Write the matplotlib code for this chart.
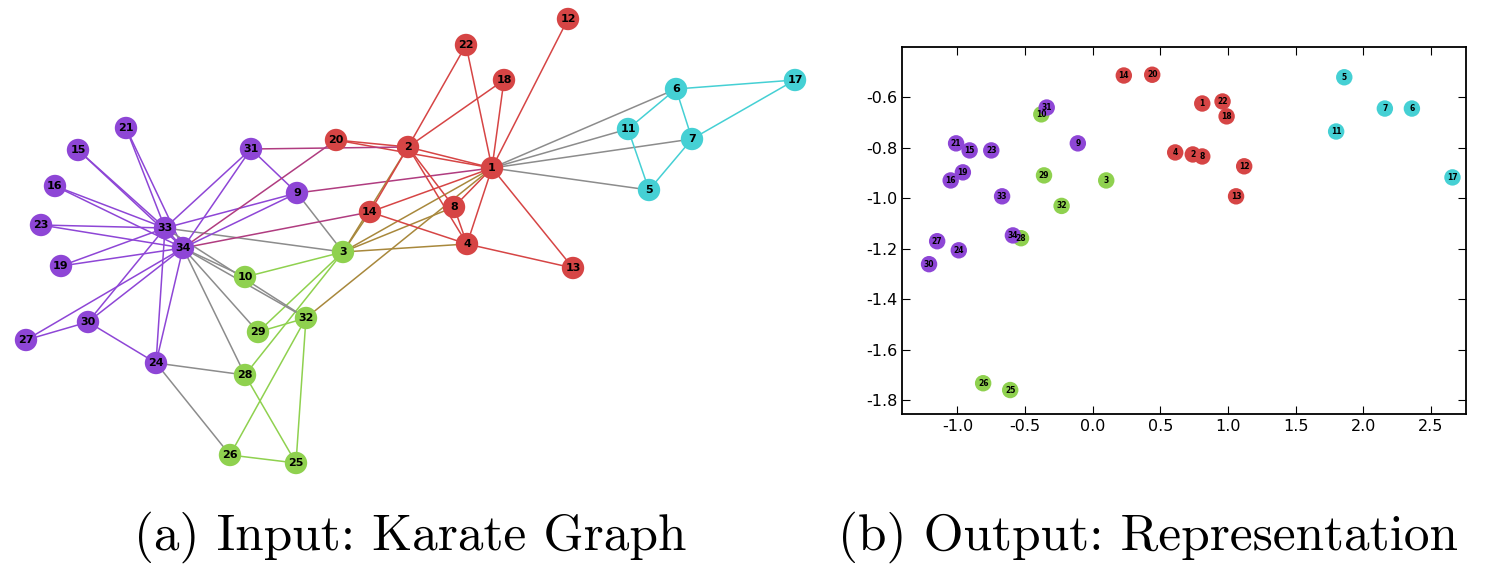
import numpy as np
import matplotlib
matplotlib.use("Agg")
import matplotlib.pyplot as plt

# node ids and community (r=red, c=cyan, g=green, p=purple)
nodes = list(range(1, 35))
community = {
    'r': [1, 2, 4, 8, 12, 13, 14, 18, 20, 22],
    'c': [5, 6, 7, 11, 17],
    'g': [3, 10, 25, 26, 28, 29, 32],
    'p': [9, 15, 16, 19, 21, 23, 24, 27, 30, 31, 33, 34],
}
# graph layout (left panel)
layout_x = [492, 408, 343, 467, 649, 676, 692, 454, 297, 245, 628, 568, 573, 370, 78, 55, 795,
            504, 61, 336, 126, 466, 41, 156, 296, 230, 26, 245, 258, 88, 251, 306, 165, 183]
layout_y = [168, 147, 252, 244, 190, 89, 139, 207, 193, 277, 129, 19, 268, 212, 150, 186, 80,
            80, 266, 140, 128, 45, 225, 363, 463, 455, 340, 375, 332, 322, 149, 318, 228, 248]
edges = [(1, j) for j in [2, 3, 4, 5, 6, 7, 8, 9, 11, 12, 13, 14, 18, 20, 22, 32]] + \
    [(2, j) for j in [3, 4, 8, 14, 18, 20, 22, 31]] + \
    [(3, j) for j in [4, 8, 9, 10, 14, 28, 29, 33]] + \
    [(4, 8), (4, 13), (4, 14), (5, 7), (5, 11), (6, 7), (6, 11), (6, 17), (7, 17),
     (9, 31), (9, 33), (9, 34), (10, 34), (14, 34), (15, 33), (15, 34), (16, 33), (16, 34),
     (19, 33), (19, 34), (20, 34), (21, 33), (21, 34), (23, 33), (23, 34),
     (24, 26), (24, 28), (24, 30), (24, 33), (24, 34), (25, 26), (25, 28), (25, 32),
     (26, 32), (27, 30), (27, 34), (28, 34), (29, 32), (29, 34), (30, 33), (30, 34),
     (31, 33), (31, 34), (32, 33), (32, 34), (33, 34)]

# learned representation (right panel)
emb_x = [0.81, 0.74, 0.10, 0.61, 1.86, 2.36, 2.16, 0.81, -0.11, -0.38, 1.80, 1.12, 1.06, 0.23,
         -0.91, -1.05, 2.66, 0.99, -0.96, 0.44, -1.01, 0.96, -0.75, -0.99, -0.61, -0.81, -1.15,
         -0.53, -0.36, -1.21, -0.34, -0.23, -0.67, -0.59]
emb_y = [-0.624, -0.826, -0.929, -0.818, -0.52, -0.644, -0.644, -0.834, -0.782, -0.667, -0.735,
         -0.873, -0.992, -0.513, -0.81, -0.929, -0.917, -0.675, -0.897, -0.51, -0.782, -0.616,
         -0.81, -1.206, -1.76, -1.733, -1.17, -1.158, -0.909, -1.261, -0.64, -1.03, -0.992, -1.147]

colors = {'r': '#d64545', 'c': '#45d0d4', 'g': '#8fd14f', 'p': '#8e46d6'}
mix = {frozenset('rp'): '#b03c80', frozenset('rg'): '#a8883c'}
comm_of = {n: k for k, v in community.items() for n in v}
node_col = [colors[comm_of[n]] for n in nodes]

plt.rcParams['font.serif'] = ['cmr10', 'DejaVu Serif']

fig = plt.figure(figsize=(14.88, 5.70), dpi=100)

# (a) graph
ax = fig.add_axes([0, 0, 820 / 1488, 1])
ax.set_xlim(0, 820)
ax.set_ylim(570, 0)
ax.axis('off')
for a, b in edges:
    ca, cb = comm_of[a], comm_of[b]
    if ca == cb:
        ec = colors[ca]
    else:
        ec = mix.get(frozenset(ca + cb), '#8c8c8c')
    ax.plot([layout_x[a - 1], layout_x[b - 1]], [layout_y[a - 1], layout_y[b - 1]],
            color=ec, lw=1.1, zorder=1)
ax.scatter(layout_x, layout_y, s=260, c=node_col, zorder=2, linewidths=0)
for n in nodes:
    ax.text(layout_x[n - 1], layout_y[n - 1], str(n), ha='center', va='center',
            fontsize=8, fontweight='bold', zorder=3)

# (b) representation
bx = fig.add_axes([902 / 1488, 156 / 570, 564 / 1488, 367 / 570])
bx.scatter(emb_x, emb_y, s=140, c=node_col, linewidths=0, zorder=2)
for n in nodes:
    bx.text(emb_x[n - 1], emb_y[n - 1], str(n), ha='center', va='center',
            fontsize=5.5, fontweight='bold', zorder=3)
bx.set_xlim(-1.41, 2.76)
bx.set_ylim(-1.855, -0.40)
bx.set_xticks(np.arange(-1.0, 2.51, 0.5))
bx.set_yticks(np.arange(-1.8, -0.59, 0.2))
bx.xaxis.set_major_formatter(matplotlib.ticker.FormatStrFormatter('%.1f'))
bx.yaxis.set_major_formatter(matplotlib.ticker.FormatStrFormatter('%.1f'))
bx.tick_params(direction='in', top=True, right=True, labelsize=11.5, length=6)
for s in bx.spines.values():
    s.set_linewidth(1.3)

cap = dict(fontsize=37, ha='center', va='center', family='serif')
fig.text(410 / 1488, 1 - 537 / 570, '(a) Input: Karate Graph', **cap)
fig.text(1148 / 1488, 1 - 537 / 570, '(b) Output: Representation', **cap)

fig.savefig('out.png', dpi=100)
